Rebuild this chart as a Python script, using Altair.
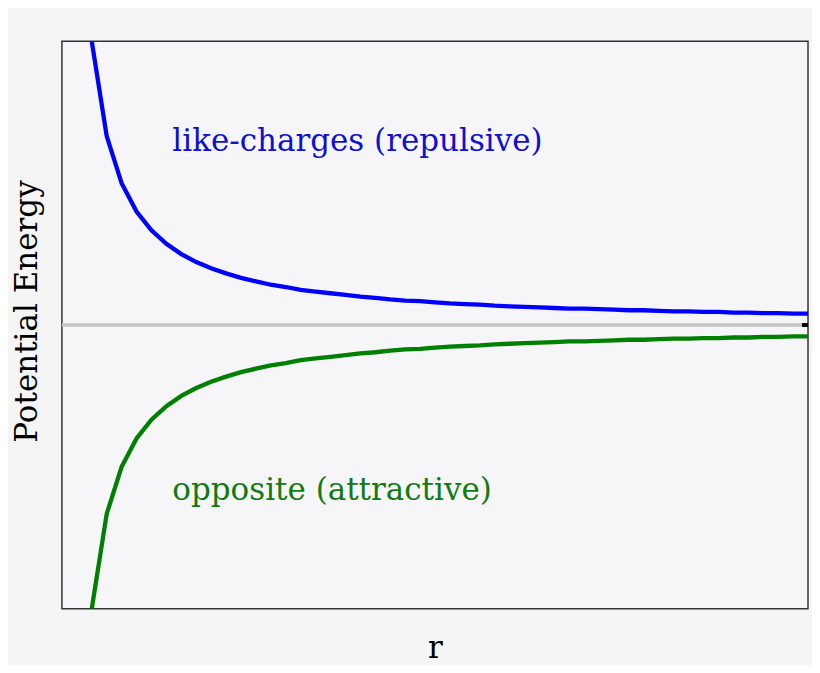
import altair as alt
import pandas as pd

# distance values (r) sampled along the curves
r_vals = list(range(2, 51))
# potential energy (like charges, repulsive)
like_vals = [0.500, 0.333, 0.250, 0.200, 0.167, 0.143, 0.125, 0.111, 0.100,
             0.091, 0.083, 0.077, 0.071, 0.067, 0.062, 0.059, 0.056, 0.053,
             0.050, 0.048, 0.045, 0.043, 0.042, 0.040, 0.038, 0.037, 0.036,
             0.034, 0.033, 0.032, 0.031, 0.030, 0.029, 0.029, 0.028, 0.027,
             0.026, 0.026, 0.025, 0.024, 0.024, 0.023, 0.023, 0.022, 0.022,
             0.021, 0.021, 0.020, 0.020]
# opposite charges (attractive)
opp_vals = [-0.500, -0.333, -0.250, -0.200, -0.167, -0.143, -0.125, -0.111, -0.100,
            -0.091, -0.083, -0.077, -0.071, -0.067, -0.062, -0.059, -0.056, -0.053,
            -0.050, -0.048, -0.045, -0.043, -0.042, -0.040, -0.038, -0.037, -0.036,
            -0.034, -0.033, -0.032, -0.031, -0.030, -0.029, -0.029, -0.028, -0.027,
            -0.026, -0.026, -0.025, -0.024, -0.024, -0.023, -0.023, -0.022, -0.022,
            -0.021, -0.021, -0.020, -0.020]

label_texts = ["like-charges (repulsive)", "opposite (attractive)"]
label_r = [7.4, 7.4]
label_e = [0.306, -0.308]
label_colors = ["#1010d0", "#117a11"]

x_domain = [0, 50]
y_domain = [-0.5, 0.5]

FONT = "DejaVu Serif"

like_df = pd.DataFrame({"r": r_vals, "E": like_vals})
opp_df = pd.DataFrame({"r": r_vals, "E": opp_vals})
zero_df = pd.DataFrame({"r": [0], "r2": [49.6], "E": [0]})
tick_df = pd.DataFrame({"r": [49.6], "r2": [50], "E": [0]})
lab_df = pd.DataFrame({"text": label_texts, "r": label_r, "E": label_e, "c": label_colors})

xs = alt.Scale(domain=x_domain, nice=False, zero=False)
ys = alt.Scale(domain=y_domain, nice=False, zero=False)

x_axis = alt.Axis(title="r", ticks=False, labels=False, grid=False, domain=False,
                  titleFont=FONT, titleFontSize=31, titleFontWeight="normal",
                  titleColor="#000000", titlePadding=25)
y_axis = alt.Axis(title="Potential Energy", ticks=False, labels=False, grid=False,
                  domain=False, titleFont=FONT, titleFontSize=31,
                  titleFontWeight="normal", titleColor="#000000",
                  titleX=-18, titleY=270, titleAngle=270, titleAlign="center",
                  titleBaseline="bottom")

zero = alt.Chart(zero_df).mark_rule(color="#c4c4c4", strokeWidth=3.5).encode(
    x=alt.X("r:Q", scale=xs, axis=x_axis), x2="r2:Q",
    y=alt.Y("E:Q", scale=ys, axis=y_axis))
tick = alt.Chart(tick_df).mark_rule(color="#000000", strokeWidth=4).encode(
    x=alt.X("r:Q", scale=xs), x2="r2:Q", y=alt.Y("E:Q", scale=ys))
like = alt.Chart(like_df).mark_line(color="#0000ff", strokeWidth=4.3, clip=True).encode(
    x=alt.X("r:Q", scale=xs), y=alt.Y("E:Q", scale=ys))
opp = alt.Chart(opp_df).mark_line(color="#008000", strokeWidth=4.3, clip=True).encode(
    x=alt.X("r:Q", scale=xs), y=alt.Y("E:Q", scale=ys))
labels = alt.Chart(lab_df).mark_text(font=FONT, fontSize=31, align="left",
                                     baseline="alphabetic").encode(
    x=alt.X("r:Q", scale=xs), y=alt.Y("E:Q", scale=ys), text="text:N",
    color=alt.Color("c:N", scale=None))

chart = alt.layer(zero, tick, like, opp, labels).properties(
    width=747, height=568,
    background="#f5f5f5",
    autosize=alt.AutoSizeParams(type="none"),
    padding={"left": 54, "top": 33, "right": 4, "bottom": 56},
).configure_view(stroke="#333333", strokeWidth=1.5, fill="#f6f6f8")

chart.save("out.html", embed_options={"renderer": "svg", "actions": False})
